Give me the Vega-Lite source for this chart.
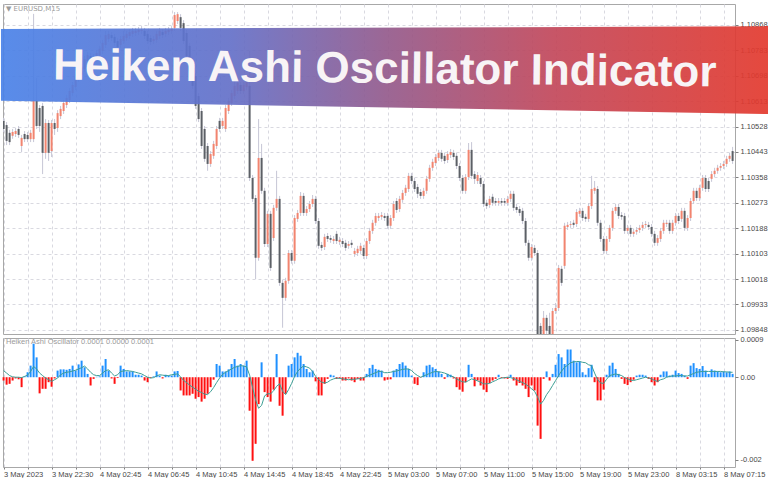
{
"$schema":"https://vega.github.io/schema/vega-lite/v6.json",
"padding":{"left":0,"top":3,"right":0,"bottom":0},
"background":"#ffffff",
"spacing":0,
"config":{"view":{"stroke":"#a8a8a8","strokeWidth":1},"axis":{"labelFont":"Liberation Sans","labelFontSize":7.5,"labelColor":"#484848","tickColor":"#808080","domain":false}},
"datasets":{"d":[
{"i":0,"o":1.10547,"c":1.10520,"h":1.10557,"l":1.10510,"v":-0.00008,"s":0.00016},
{"i":1,"o":1.10533,"c":1.10480,"h":1.10543,"l":1.10466,"v":-0.00018,"s":0.00010},
{"i":2,"o":1.10507,"c":1.10476,"h":1.10517,"l":1.10466,"v":-0.00016,"s":0.00004},
{"i":3,"o":1.10497,"c":1.10510,"h":1.10520,"l":1.10487,"v":-0.00008,"s":0.00001},
{"i":4,"o":1.10503,"c":1.10513,"h":1.10523,"l":1.10493,"v":-0.00003,"s":0},
{"i":5,"o":1.10520,"c":1.10500,"h":1.10530,"l":1.10490,"v":-0.00005,"s":0},
{"i":6,"o":1.10463,"c":1.10490,"h":1.10500,"l":1.10443,"v":-0.00024,"s":-0.00001},
{"i":7,"o":1.10503,"c":1.10486,"h":1.10513,"l":1.10476,"v":0.00002,"s":0.00002},
{"i":8,"o":1.10500,"c":1.10486,"h":1.10510,"l":1.10476,"v":0.00012,"s":0.00005},
{"i":9,"o":1.10486,"c":1.10507,"h":1.10517,"l":1.10476,"v":0.00028,"s":0.00014},
{"i":10,"o":1.10486,"c":1.10614,"h":1.10905,"l":1.10476,"v":0.00081,"s":0.00026},
{"i":11,"o":1.10614,"c":1.10530,"h":1.10691,"l":1.10520,"v":0.00048,"s":0.00020},
{"i":12,"o":1.10590,"c":1.10530,"h":1.10600,"l":1.10510,"v":-0.00039,"s":0.00010},
{"i":13,"o":1.10597,"c":1.10440,"h":1.10607,"l":1.10369,"v":-0.00028,"s":0.00004},
{"i":14,"o":1.10440,"c":1.10540,"h":1.10553,"l":1.10420,"v":-0.00028,"s":-0.00002},
{"i":15,"o":1.10540,"c":1.10440,"h":1.10550,"l":1.10413,"v":-0.00012,"s":-0.00006},
{"i":16,"o":1.10446,"c":1.10540,"h":1.10550,"l":1.10426,"v":-0.00023,"s":-0.00010},
{"i":17,"o":1.10540,"c":1.10520,"h":1.10553,"l":1.10500,"v":-0.00003,"s":-0.00006},
{"i":18,"o":1.10523,"c":1.10573,"h":1.10583,"l":1.10510,"v":0.00016,"s":-0.00002},
{"i":19,"o":1.10563,"c":1.10587,"h":1.10597,"l":1.10553,"v":0.00019,"s":0.00006},
{"i":20,"o":1.10580,"c":1.10607,"h":1.10617,"l":1.10570,"v":0.00019,"s":0.00010},
{"i":21,"o":1.10600,"c":1.10624,"h":1.10634,"l":1.10590,"v":0.00018,"s":0.00012},
{"i":22,"o":1.10617,"c":1.10647,"h":1.10657,"l":1.10607,"v":0.00020,"s":0.00013},
{"i":23,"o":1.10640,"c":1.10667,"h":1.10677,"l":1.10630,"v":0.00028,"s":0.00015},
{"i":24,"o":1.10660,"c":1.10694,"h":1.10704,"l":1.10650,"v":0.00016,"s":0.00017},
{"i":25,"o":1.10687,"c":1.10707,"h":1.10717,"l":1.10677,"v":0.00031,"s":0.00020},
{"i":26,"o":1.10701,"c":1.10727,"h":1.10737,"l":1.10691,"v":0.00040,"s":0.00023},
{"i":27,"o":1.10721,"c":1.10754,"h":1.10764,"l":1.10711,"v":0.00024,"s":0.00027},
{"i":28,"o":1.10747,"c":1.10767,"h":1.10777,"l":1.10737,"v":0.00008,"s":0.00020},
{"i":29,"o":1.10764,"c":1.10741,"h":1.10774,"l":1.10731,"v":-0.00020,"s":0.00012},
{"i":30,"o":1.10747,"c":1.10761,"h":1.10771,"l":1.10737,"v":-0.00004,"s":0.00006},
{"i":31,"o":1.10754,"c":1.10774,"h":1.10784,"l":1.10744,"v":0.00001,"s":0.00004},
{"i":32,"o":1.10767,"c":1.10788,"h":1.10798,"l":1.10757,"v":0.00002,"s":0.00004},
{"i":33,"o":1.10781,"c":1.10808,"h":1.10818,"l":1.10771,"v":0.00028,"s":0.00010},
{"i":34,"o":1.10801,"c":1.10834,"h":1.10848,"l":1.10791,"v":0.00044,"s":0.00016},
{"i":35,"o":1.10821,"c":1.10838,"h":1.10848,"l":1.10811,"v":0.00016,"s":0.00018},
{"i":36,"o":1.10834,"c":1.10824,"h":1.10844,"l":1.10814,"v":-0.00003,"s":0.00010},
{"i":37,"o":1.10828,"c":1.10808,"h":1.10838,"l":1.10798,"v":-0.00016,"s":0.00003},
{"i":38,"o":1.10814,"c":1.10794,"h":1.10824,"l":1.10784,"v":-0.00002,"s":0.00006},
{"i":39,"o":1.10801,"c":1.10821,"h":1.10831,"l":1.10791,"v":0.00028,"s":0.00014},
{"i":40,"o":1.10814,"c":1.10831,"h":1.10848,"l":1.10804,"v":0.00020,"s":0.00015},
{"i":41,"o":1.10824,"c":1.10838,"h":1.10848,"l":1.10814,"v":0.00014,"s":0.00016},
{"i":42,"o":1.10831,"c":1.10844,"h":1.10854,"l":1.10821,"v":0.00014,"s":0.00015},
{"i":43,"o":1.10838,"c":1.10848,"h":1.10858,"l":1.10828,"v":0.00014,"s":0.00014},
{"i":44,"o":1.10841,"c":1.10848,"h":1.10858,"l":1.10831,"v":0.00006,"s":0.00012},
{"i":45,"o":1.10844,"c":1.10851,"h":1.10861,"l":1.10834,"v":0.00006,"s":0.00010},
{"i":46,"o":1.10848,"c":1.10851,"h":1.10864,"l":1.10838,"v":0.00004,"s":0.00008},
{"i":47,"o":1.10848,"c":1.10831,"h":1.10858,"l":1.10821,"v":-0.00008,"s":0.00004},
{"i":48,"o":1.10838,"c":1.10814,"h":1.10848,"l":1.10804,"v":-0.00012,"s":0},
{"i":49,"o":1.10824,"c":1.10811,"h":1.10834,"l":1.10801,"v":-0.00002,"s":-0.00002},
{"i":50,"o":1.10814,"c":1.10821,"h":1.10831,"l":1.10804,"v":0.00002,"s":-0.00001},
{"i":51,"o":1.10818,"c":1.10838,"h":1.10848,"l":1.10808,"v":0.00014,"s":0.00003},
{"i":52,"o":1.10831,"c":1.10848,"h":1.10858,"l":1.10821,"v":0.00004,"s":0.00006},
{"i":53,"o":1.10844,"c":1.10834,"h":1.10854,"l":1.10824,"v":-0.00003,"s":0.00005},
{"i":54,"o":1.10838,"c":1.10848,"h":1.10858,"l":1.10828,"v":0.00006,"s":0.00004},
{"i":55,"o":1.10844,"c":1.10851,"h":1.10861,"l":1.10834,"v":0.00004,"s":0.00004},
{"i":56,"o":1.10848,"c":1.10854,"h":1.10864,"l":1.10838,"v":0.00004,"s":0.00006},
{"i":57,"o":1.10858,"c":1.10901,"h":1.10911,"l":1.10848,"v":0.00014,"s":0.00007},
{"i":58,"o":1.10881,"c":1.10904,"h":1.10911,"l":1.10871,"v":0.00015,"s":0.00008},
{"i":59,"o":1.10894,"c":1.10858,"h":1.10904,"l":1.10848,"v":-0.00032,"s":0.00001},
{"i":60,"o":1.10874,"c":1.10814,"h":1.10884,"l":1.10804,"v":-0.00044,"s":-0.00008},
{"i":61,"o":1.10841,"c":1.10764,"h":1.10851,"l":1.10754,"v":-0.00044,"s":-0.00013},
{"i":62,"o":1.10798,"c":1.10714,"h":1.10808,"l":1.10704,"v":-0.00044,"s":-0.00019},
{"i":63,"o":1.10747,"c":1.10664,"h":1.10757,"l":1.10654,"v":-0.00040,"s":-0.00024},
{"i":64,"o":1.10697,"c":1.10597,"h":1.10707,"l":1.10587,"v":-0.00052,"s":-0.00029},
{"i":65,"o":1.10630,"c":1.10553,"h":1.10640,"l":1.10543,"v":-0.00048,"s":-0.00034},
{"i":66,"o":1.10580,"c":1.10463,"h":1.10590,"l":1.10453,"v":-0.00059,"s":-0.00037},
{"i":67,"o":1.10520,"c":1.10420,"h":1.10530,"l":1.10410,"v":-0.00052,"s":-0.00041},
{"i":68,"o":1.10463,"c":1.10403,"h":1.10473,"l":1.10380,"v":-0.00040,"s":-0.00042},
{"i":69,"o":1.10403,"c":1.10436,"h":1.10446,"l":1.10393,"v":-0.00024,"s":-0.00035},
{"i":70,"o":1.10430,"c":1.10470,"h":1.10480,"l":1.10420,"v":-0.00006,"s":-0.00025},
{"i":71,"o":1.10463,"c":1.10520,"h":1.10530,"l":1.10453,"v":0.00032,"s":-0.00013},
{"i":72,"o":1.10547,"c":1.10520,"h":1.10557,"l":1.10510,"v":0.00028,"s":-0.00002},
{"i":73,"o":1.10530,"c":1.10547,"h":1.10557,"l":1.10520,"v":0.00014,"s":0.00007},
{"i":74,"o":1.10520,"c":1.10590,"h":1.10600,"l":1.10510,"v":0.00014,"s":0.00012},
{"i":75,"o":1.10580,"c":1.10614,"h":1.10624,"l":1.10570,"v":0.00019,"s":0.00016},
{"i":76,"o":1.10607,"c":1.10640,"h":1.10650,"l":1.10597,"v":0.00032,"s":0.00020},
{"i":77,"o":1.10630,"c":1.10664,"h":1.10681,"l":1.10620,"v":0.00044,"s":0.00024},
{"i":78,"o":1.10647,"c":1.10674,"h":1.10684,"l":1.10637,"v":0.00028,"s":0.00026},
{"i":79,"o":1.10667,"c":1.10647,"h":1.10677,"l":1.10637,"v":0.00032,"s":0.00028},
{"i":80,"o":1.10647,"c":1.10667,"h":1.10677,"l":1.10637,"v":0.00028,"s":0.00027},
{"i":81,"o":1.10660,"c":1.10681,"h":1.10691,"l":1.10650,"v":0.00040,"s":0.00025},
{"i":82,"o":1.10664,"c":1.10356,"h":1.10781,"l":1.10346,"v":-0.00081,"s":0.00005},
{"i":83,"o":1.10356,"c":1.10286,"h":1.10366,"l":1.10276,"v":-0.00202,"s":-0.00025},
{"i":84,"o":1.10289,"c":1.10089,"h":1.10299,"l":1.10018,"v":-0.00161,"s":-0.00055},
{"i":85,"o":1.10089,"c":1.10423,"h":1.10553,"l":1.10079,"v":-0.00065,"s":-0.00075},
{"i":86,"o":1.10423,"c":1.10313,"h":1.10470,"l":1.10303,"v":0.00036,"s":-0.00068},
{"i":87,"o":1.10313,"c":1.10135,"h":1.10323,"l":1.10125,"v":-0.00036,"s":-0.00045},
{"i":88,"o":1.10135,"c":1.10236,"h":1.10246,"l":1.10125,"v":-0.00048,"s":-0.00040},
{"i":89,"o":1.10236,"c":1.10055,"h":1.10246,"l":1.10045,"v":-0.00059,"s":-0.00040},
{"i":90,"o":1.10155,"c":1.10256,"h":1.10266,"l":1.10145,"v":-0.00030,"s":-0.00033},
{"i":91,"o":1.10256,"c":1.10286,"h":1.10380,"l":1.10246,"v":0.00056,"s":-0.00022},
{"i":92,"o":1.10286,"c":1.10005,"h":1.10296,"l":1.09995,"v":-0.00069,"s":-0.00016},
{"i":93,"o":1.10005,"c":1.09955,"h":1.10015,"l":1.09855,"v":-0.00093,"s":-0.00034},
{"i":94,"o":1.09955,"c":1.10012,"h":1.10022,"l":1.09945,"v":-0.00040,"s":-0.00042},
{"i":95,"o":1.10012,"c":1.10105,"h":1.10115,"l":1.10002,"v":0.00028,"s":-0.00030},
{"i":96,"o":1.10105,"c":1.10079,"h":1.10115,"l":1.10069,"v":0.00032,"s":-0.00015},
{"i":97,"o":1.10079,"c":1.10222,"h":1.10232,"l":1.10069,"v":0.00048,"s":0.00002},
{"i":98,"o":1.10219,"c":1.10239,"h":1.10249,"l":1.10209,"v":0.00059,"s":0.00014},
{"i":99,"o":1.10239,"c":1.10296,"h":1.10309,"l":1.10229,"v":0.00052,"s":0.00022},
{"i":100,"o":1.10296,"c":1.10239,"h":1.10306,"l":1.10229,"v":0.00032,"s":0.00027},
{"i":101,"o":1.10239,"c":1.10252,"h":1.10262,"l":1.10229,"v":0.00020,"s":0.00025},
{"i":102,"o":1.10252,"c":1.10269,"h":1.10279,"l":1.10242,"v":0.00012,"s":0.00022},
{"i":103,"o":1.10269,"c":1.10286,"h":1.10299,"l":1.10259,"v":0.00016,"s":0.00014},
{"i":104,"o":1.10286,"c":1.10212,"h":1.10296,"l":1.10202,"v":-0.00010,"s":0.00002},
{"i":105,"o":1.10212,"c":1.10129,"h":1.10222,"l":1.10119,"v":-0.00044,"s":-0.00006},
{"i":106,"o":1.10132,"c":1.10122,"h":1.10142,"l":1.10112,"v":-0.00044,"s":-0.00012},
{"i":107,"o":1.10125,"c":1.10159,"h":1.10169,"l":1.10115,"v":-0.00016,"s":-0.00014},
{"i":108,"o":1.10162,"c":1.10152,"h":1.10172,"l":1.10142,"v":-0.00004,"s":-0.00012},
{"i":109,"o":1.10155,"c":1.10149,"h":1.10165,"l":1.10139,"v":0.00006,"s":-0.00007},
{"i":110,"o":1.10145,"c":1.10152,"h":1.10162,"l":1.10135,"v":0.00004,"s":-0.00004},
{"i":111,"o":1.10169,"c":1.10145,"h":1.10179,"l":1.10135,"v":-0.00004,"s":-0.00002},
{"i":112,"o":1.10142,"c":1.10149,"h":1.10159,"l":1.10132,"v":-0.00003,"s":-0.00003},
{"i":113,"o":1.10145,"c":1.10135,"h":1.10155,"l":1.10125,"v":-0.00008,"s":-0.00004},
{"i":114,"o":1.10139,"c":1.10122,"h":1.10149,"l":1.10112,"v":-0.00008,"s":-0.00005},
{"i":115,"o":1.10129,"c":1.10135,"h":1.10145,"l":1.10119,"v":-0.00003,"s":-0.00006},
{"i":116,"o":1.10139,"c":1.10132,"h":1.10149,"l":1.10122,"v":-0.00008,"s":-0.00005},
{"i":117,"o":1.10102,"c":1.10112,"h":1.10122,"l":1.10092,"v":-0.00012,"s":-0.00005},
{"i":118,"o":1.10105,"c":1.10119,"h":1.10129,"l":1.10095,"v":-0.00004,"s":-0.00004},
{"i":119,"o":1.10112,"c":1.10129,"h":1.10139,"l":1.10102,"v":-0.00008,"s":-0.00003},
{"i":120,"o":1.10122,"c":1.10095,"h":1.10132,"l":1.10085,"v":-0.00008,"s":-0.00001},
{"i":121,"o":1.10095,"c":1.10145,"h":1.10155,"l":1.10085,"v":0.00008,"s":0.00002},
{"i":122,"o":1.10145,"c":1.10179,"h":1.10189,"l":1.10135,"v":0.00022,"s":0.00005},
{"i":123,"o":1.10179,"c":1.10206,"h":1.10216,"l":1.10169,"v":0.00030,"s":0.00008},
{"i":124,"o":1.10206,"c":1.10229,"h":1.10239,"l":1.10196,"v":0.00020,"s":0.00011},
{"i":125,"o":1.10222,"c":1.10229,"h":1.10239,"l":1.10212,"v":0.00018,"s":0.00014},
{"i":126,"o":1.10226,"c":1.10232,"h":1.10242,"l":1.10216,"v":0.00016,"s":0.00014},
{"i":127,"o":1.10229,"c":1.10222,"h":1.10239,"l":1.10212,"v":-0.00008,"s":0.00011},
{"i":128,"o":1.10229,"c":1.10196,"h":1.10239,"l":1.10186,"v":-0.00006,"s":0.00011},
{"i":129,"o":1.10196,"c":1.10222,"h":1.10232,"l":1.10186,"v":-0.00005,"s":0.00012},
{"i":130,"o":1.10222,"c":1.10269,"h":1.10279,"l":1.10212,"v":0.00016,"s":0.00014},
{"i":131,"o":1.10279,"c":1.10249,"h":1.10289,"l":1.10239,"v":0.00020,"s":0.00015},
{"i":132,"o":1.10252,"c":1.10286,"h":1.10296,"l":1.10242,"v":0.00032,"s":0.00017},
{"i":133,"o":1.10283,"c":1.10306,"h":1.10316,"l":1.10273,"v":0.00036,"s":0.00019},
{"i":134,"o":1.10306,"c":1.10323,"h":1.10333,"l":1.10296,"v":0.00028,"s":0.00020},
{"i":135,"o":1.10319,"c":1.10363,"h":1.10373,"l":1.10309,"v":0.00020,"s":0.00020},
{"i":136,"o":1.10363,"c":1.10346,"h":1.10373,"l":1.10336,"v":0.00004,"s":0.00016},
{"i":137,"o":1.10346,"c":1.10319,"h":1.10356,"l":1.10309,"v":-0.00016,"s":0.00009},
{"i":138,"o":1.10326,"c":1.10303,"h":1.10336,"l":1.10289,"v":-0.00019,"s":0.00004},
{"i":139,"o":1.10309,"c":1.10296,"h":1.10319,"l":1.10286,"v":-0.00001,"s":0},
{"i":140,"o":1.10296,"c":1.10313,"h":1.10323,"l":1.10286,"v":0.00012,"s":0.00003},
{"i":141,"o":1.10313,"c":1.10353,"h":1.10363,"l":1.10303,"v":0.00028,"s":0.00006},
{"i":142,"o":1.10353,"c":1.10390,"h":1.10400,"l":1.10343,"v":0.00030,"s":0.00009},
{"i":143,"o":1.10390,"c":1.10410,"h":1.10420,"l":1.10380,"v":0.00024,"s":0.00012},
{"i":144,"o":1.10406,"c":1.10426,"h":1.10436,"l":1.10396,"v":0.00020,"s":0.00014},
{"i":145,"o":1.10423,"c":1.10440,"h":1.10450,"l":1.10413,"v":0.00014,"s":0.00013},
{"i":146,"o":1.10440,"c":1.10420,"h":1.10450,"l":1.10410,"v":0.00008,"s":0.00012},
{"i":147,"o":1.10430,"c":1.10413,"h":1.10440,"l":1.10403,"v":-0.00004,"s":0.00010},
{"i":148,"o":1.10416,"c":1.10436,"h":1.10446,"l":1.10406,"v":0.00008,"s":0.00007},
{"i":149,"o":1.10433,"c":1.10443,"h":1.10453,"l":1.10423,"v":0.00006,"s":0.00003},
{"i":150,"o":1.10440,"c":1.10426,"h":1.10450,"l":1.10416,"v":-0.00003,"s":0.00001},
{"i":151,"o":1.10430,"c":1.10396,"h":1.10440,"l":1.10386,"v":-0.00024,"s":-0.00004},
{"i":152,"o":1.10396,"c":1.10356,"h":1.10406,"l":1.10346,"v":-0.00030,"s":-0.00008},
{"i":153,"o":1.10356,"c":1.10313,"h":1.10366,"l":1.10303,"v":-0.00035,"s":-0.00011},
{"i":154,"o":1.10313,"c":1.10359,"h":1.10369,"l":1.10303,"v":-0.00012,"s":-0.00012},
{"i":155,"o":1.10359,"c":1.10450,"h":1.10473,"l":1.10349,"v":0.00030,"s":-0.00008},
{"i":156,"o":1.10450,"c":1.10363,"h":1.10476,"l":1.10353,"v":0.00008,"s":-0.00004},
{"i":157,"o":1.10369,"c":1.10353,"h":1.10379,"l":1.10336,"v":-0.00022,"s":-0.00006},
{"i":158,"o":1.10346,"c":1.10366,"h":1.10376,"l":1.10336,"v":-0.00008,"s":-0.00009},
{"i":159,"o":1.10356,"c":1.10336,"h":1.10366,"l":1.10326,"v":-0.00020,"s":-0.00012},
{"i":160,"o":1.10336,"c":1.10269,"h":1.10346,"l":1.10259,"v":-0.00030,"s":-0.00016},
{"i":161,"o":1.10273,"c":1.10262,"h":1.10283,"l":1.10252,"v":-0.00036,"s":-0.00016},
{"i":162,"o":1.10266,"c":1.10286,"h":1.10296,"l":1.10256,"v":-0.00014,"s":-0.00015},
{"i":163,"o":1.10293,"c":1.10273,"h":1.10303,"l":1.10263,"v":-0.00008,"s":-0.00011},
{"i":164,"o":1.10279,"c":1.10273,"h":1.10289,"l":1.10263,"v":-0.00004,"s":-0.00008},
{"i":165,"o":1.10273,"c":1.10279,"h":1.10289,"l":1.10263,"v":0.00006,"s":-0.00004},
{"i":166,"o":1.10279,"c":1.10273,"h":1.10289,"l":1.10263,"v":-0.00002,"s":-0.00002},
{"i":167,"o":1.10279,"c":1.10273,"h":1.10289,"l":1.10263,"v":-0.00003,"s":-0.00001},
{"i":168,"o":1.10273,"c":1.10286,"h":1.10296,"l":1.10263,"v":-0.00004,"s":0},
{"i":169,"o":1.10286,"c":1.10303,"h":1.10313,"l":1.10276,"v":0.00006,"s":-0.00001},
{"i":170,"o":1.10303,"c":1.10256,"h":1.10313,"l":1.10246,"v":-0.00008,"s":-0.00003},
{"i":171,"o":1.10259,"c":1.10249,"h":1.10269,"l":1.10239,"v":-0.00020,"s":-0.00006},
{"i":172,"o":1.10252,"c":1.10239,"h":1.10262,"l":1.10229,"v":-0.00014,"s":-0.00010},
{"i":173,"o":1.10246,"c":1.10212,"h":1.10256,"l":1.10202,"v":-0.00020,"s":-0.00013},
{"i":174,"o":1.10212,"c":1.10139,"h":1.10222,"l":1.10129,"v":-0.00028,"s":-0.00017},
{"i":175,"o":1.10139,"c":1.10089,"h":1.10149,"l":1.10079,"v":-0.00048,"s":-0.00022},
{"i":176,"o":1.10089,"c":1.10125,"h":1.10135,"l":1.10079,"v":-0.00020,"s":-0.00028},
{"i":177,"o":1.10122,"c":1.10105,"h":1.10132,"l":1.10095,"v":-0.00032,"s":-0.00034},
{"i":178,"o":1.10105,"c":1.09834,"h":1.10115,"l":1.09811,"v":-0.00117,"s":-0.00048},
{"i":179,"o":1.09861,"c":1.09818,"h":1.09871,"l":1.09800,"v":-0.00149,"s":-0.00065},
{"i":180,"o":1.09834,"c":1.09888,"h":1.09911,"l":1.09818,"v":-0.00004,"s":-0.00056},
{"i":181,"o":1.09888,"c":1.09845,"h":1.09898,"l":1.09828,"v":0.00014,"s":-0.00042},
{"i":182,"o":1.09861,"c":1.09828,"h":1.09905,"l":1.09811,"v":-0.00008,"s":-0.00032},
{"i":183,"o":1.09834,"c":1.09911,"h":1.09921,"l":1.09818,"v":0.00008,"s":-0.00020},
{"i":184,"o":1.09911,"c":1.09921,"h":1.09938,"l":1.09901,"v":0.00030,"s":-0.00008},
{"i":185,"o":1.09921,"c":1.10055,"h":1.10065,"l":1.09911,"v":0.00056,"s":0.00004},
{"i":186,"o":1.10052,"c":1.10005,"h":1.10062,"l":1.09995,"v":0.00048,"s":0.00015},
{"i":187,"o":1.10062,"c":1.10196,"h":1.10206,"l":1.10052,"v":0.00032,"s":0.00024},
{"i":188,"o":1.10192,"c":1.10199,"h":1.10209,"l":1.10182,"v":0.00067,"s":0.00029},
{"i":189,"o":1.10199,"c":1.10202,"h":1.10212,"l":1.10189,"v":0.00067,"s":0.00035},
{"i":190,"o":1.10206,"c":1.10199,"h":1.10216,"l":1.10189,"v":0.00040,"s":0.00037},
{"i":191,"o":1.10202,"c":1.10242,"h":1.10252,"l":1.10192,"v":0.00036,"s":0.00038},
{"i":192,"o":1.10236,"c":1.10246,"h":1.10256,"l":1.10226,"v":0.00038,"s":0.00038},
{"i":193,"o":1.10246,"c":1.10222,"h":1.10256,"l":1.10212,"v":0.00012,"s":0.00036},
{"i":194,"o":1.10226,"c":1.10219,"h":1.10236,"l":1.10209,"v":0.00006,"s":0.00035},
{"i":195,"o":1.10219,"c":1.10262,"h":1.10272,"l":1.10209,"v":0.00022,"s":0.00030},
{"i":196,"o":1.10262,"c":1.10319,"h":1.10363,"l":1.10252,"v":0.00030,"s":0.00028},
{"i":197,"o":1.10313,"c":1.10323,"h":1.10346,"l":1.10303,"v":-0.00012,"s":0.00010},
{"i":198,"o":1.10319,"c":1.10206,"h":1.10329,"l":1.10196,"v":-0.00056,"s":-0.00006},
{"i":199,"o":1.10206,"c":1.10152,"h":1.10216,"l":1.10142,"v":-0.00056,"s":-0.00014},
{"i":200,"o":1.10152,"c":1.10112,"h":1.10162,"l":1.10102,"v":-0.00030,"s":-0.00015},
{"i":201,"o":1.10112,"c":1.10152,"h":1.10162,"l":1.10102,"v":0.00006,"s":-0.00005},
{"i":202,"o":1.10152,"c":1.10189,"h":1.10199,"l":1.10142,"v":0.00028,"s":0.00004},
{"i":203,"o":1.10189,"c":1.10246,"h":1.10256,"l":1.10179,"v":0.00035,"s":0.00006},
{"i":204,"o":1.10246,"c":1.10259,"h":1.10269,"l":1.10236,"v":0.00020,"s":0.00008},
{"i":205,"o":1.10259,"c":1.10229,"h":1.10269,"l":1.10219,"v":0.00008,"s":0.00006},
{"i":206,"o":1.10232,"c":1.10226,"h":1.10242,"l":1.10216,"v":-0.00004,"s":0.00004},
{"i":207,"o":1.10229,"c":1.10179,"h":1.10239,"l":1.10169,"v":-0.00016,"s":-0.00001},
{"i":208,"o":1.10179,"c":1.10189,"h":1.10199,"l":1.10169,"v":-0.00019,"s":-0.00004},
{"i":209,"o":1.10189,"c":1.10169,"h":1.10199,"l":1.10159,"v":-0.00012,"s":-0.00007},
{"i":210,"o":1.10169,"c":1.10176,"h":1.10186,"l":1.10159,"v":-0.00006,"s":-0.00008},
{"i":211,"o":1.10176,"c":1.10182,"h":1.10192,"l":1.10166,"v":0.00004,"s":-0.00006},
{"i":212,"o":1.10182,"c":1.10189,"h":1.10199,"l":1.10172,"v":0.00006,"s":-0.00004},
{"i":213,"o":1.10189,"c":1.10199,"h":1.10209,"l":1.10179,"v":0.00006,"s":-0.00002},
{"i":214,"o":1.10199,"c":1.10202,"h":1.10212,"l":1.10189,"v":0.00004,"s":0},
{"i":215,"o":1.10199,"c":1.10192,"h":1.10209,"l":1.10182,"v":-0.00004,"s":-0.00002},
{"i":216,"o":1.10192,"c":1.10169,"h":1.10202,"l":1.10159,"v":-0.00012,"s":-0.00004},
{"i":217,"o":1.10169,"c":1.10139,"h":1.10179,"l":1.10129,"v":-0.00020,"s":-0.00008},
{"i":218,"o":1.10139,"c":1.10155,"h":1.10165,"l":1.10129,"v":-0.00012,"s":-0.00010},
{"i":219,"o":1.10152,"c":1.10179,"h":1.10189,"l":1.10142,"v":0.00006,"s":-0.00006},
{"i":220,"o":1.10179,"c":1.10206,"h":1.10216,"l":1.10169,"v":0.00014,"s":-0.00004},
{"i":221,"o":1.10202,"c":1.10206,"h":1.10216,"l":1.10192,"v":0.00014,"s":0},
{"i":222,"o":1.10206,"c":1.10179,"h":1.10216,"l":1.10169,"v":0.00004,"s":0.00002},
{"i":223,"o":1.10179,"c":1.10206,"h":1.10216,"l":1.10169,"v":0.00006,"s":0.00003},
{"i":224,"o":1.10206,"c":1.10229,"h":1.10239,"l":1.10196,"v":0.00016,"s":0.00003},
{"i":225,"o":1.10229,"c":1.10212,"h":1.10239,"l":1.10202,"v":0.00010,"s":0.00004},
{"i":226,"o":1.10219,"c":1.10246,"h":1.10256,"l":1.10209,"v":0.00008,"s":0.00004},
{"i":227,"o":1.10246,"c":1.10189,"h":1.10256,"l":1.10179,"v":0.00004,"s":0.00003},
{"i":228,"o":1.10189,"c":1.10222,"h":1.10232,"l":1.10179,"v":-0.00004,"s":0.00003},
{"i":229,"o":1.10222,"c":1.10279,"h":1.10289,"l":1.10212,"v":0.00028,"s":0.00006},
{"i":230,"o":1.10279,"c":1.10313,"h":1.10323,"l":1.10269,"v":0.00034,"s":0.00009},
{"i":231,"o":1.10313,"c":1.10289,"h":1.10323,"l":1.10279,"v":0.00022,"s":0.00012},
{"i":232,"o":1.10289,"c":1.10323,"h":1.10333,"l":1.10279,"v":0.00020,"s":0.00013},
{"i":233,"o":1.10323,"c":1.10356,"h":1.10366,"l":1.10313,"v":0.00027,"s":0.00014},
{"i":234,"o":1.10356,"c":1.10319,"h":1.10366,"l":1.10309,"v":0.00016,"s":0.00014},
{"i":235,"o":1.10346,"c":1.10319,"h":1.10356,"l":1.10309,"v":0.00008,"s":0.00014},
{"i":236,"o":1.10353,"c":1.10369,"h":1.10379,"l":1.10343,"v":0.00019,"s":0.00014},
{"i":237,"o":1.10369,"c":1.10380,"h":1.10390,"l":1.10359,"v":0.00016,"s":0.00014},
{"i":238,"o":1.10380,"c":1.10390,"h":1.10400,"l":1.10370,"v":0.00014,"s":0.00014},
{"i":239,"o":1.10390,"c":1.10396,"h":1.10406,"l":1.10380,"v":0.00012,"s":0.00014},
{"i":240,"o":1.10396,"c":1.10403,"h":1.10413,"l":1.10386,"v":0.00014,"s":0.00013},
{"i":241,"o":1.10403,"c":1.10420,"h":1.10430,"l":1.10393,"v":0.00012,"s":0.00013},
{"i":242,"o":1.10420,"c":1.10430,"h":1.10440,"l":1.10410,"v":0.00014,"s":0.00012},
{"i":243,"o":1.10446,"c":1.10413,"h":1.10460,"l":1.10403,"v":0.00008,"s":0.00012}
]},
"vconcat":[
{
"width":732,"height":330,
"data":{"name":"d"},
"layer":[
{"mark":{"type":"rule","color":"#c6c6d6","strokeWidth":1,"clip":true},
"encoding":{
"x":{"field":"i","type":"quantitative","title":null,"scale":{"domain":[-0.2,243.8],"nice":false,"zero":false},"axis":{"values":[0,8,16,24,32,40,48,56,64,72,80,88,96,104,112,120,128,136,144,152,160,168,176,184,192,200,208,216,224,232,240],"tickCount":100,"labels":false,"ticks":false,"domain":false,"grid":true,"gridDash":[3,3],"gridColor":"#d9d9e0"}},
"y":{"field":"l","type":"quantitative","title":null,"scale":{"domain":[1.09834,1.10938],"nice":false,"zero":false},"axis":{"orient":"right","values":[1.09848,1.09933,1.10018,1.10103,1.10188,1.10273,1.10358,1.10443,1.10528,1.10613,1.10698,1.10783,1.10868],"tickCount":100,"format":".5f","grid":true,"gridDash":[3,3],"gridColor":"#d9d9e0","tickSize":3,"labelPadding":2,"labelOverlap":false,"labelBound":false}},
"y2":{"field":"h"}
}},
{"mark":{"type":"rule","strokeWidth":2,"clip":true},
"encoding":{
"x":{"field":"i","type":"quantitative","title":null},
"y":{"field":"o","type":"quantitative","title":null},
"y2":{"field":"c"},
"color":{"condition":{"test":"datum.c > datum.o","value":"#f2846f"},"value":"#5c6066"}
}},
{"data":{"values":[{"bx":-0.87,"bt":1.10854,"bb":1.10614},{"bx":255.13,"bt":1.10864,"bb":1.10570}]},
"mark":{"type":"area","clip":false,"opacity":0.92,"color":{"gradient":"linear","x1":0,"x2":1,"y1":0,"y2":0,"stops":[{"offset":0,"color":"#4a82e8"},{"offset":0.3,"color":"#6470c8"},{"offset":0.5,"color":"#935a8c"},{"offset":0.72,"color":"#c2475a"},{"offset":1,"color":"#e3392d"}]}},
"encoding":{
"x":{"field":"bx","type":"quantitative","title":null},
"y":{"field":"bt","type":"quantitative","title":null},
"y2":{"field":"bb"}
}},
{"data":{"values":[{}]},
"mark":{"type":"text","text":"Heiken Ashi Oscillator Indicator","font":"Liberation Sans","fontWeight":"bold","fontSize":44,"color":"#f8f4f6","align":"center","baseline":"alphabetic","angle":0.6,"clip":false},
"encoding":{"x":{"datum":127,"type":"quantitative","title":null},"y":{"datum":1.10674,"type":"quantitative","title":null}}},
{"data":{"values":[{}]},
"mark":{"type":"text","text":"▼ EURUSD,M15","font":"DejaVu Sans","fontSize":7,"color":"#9a9a9a","align":"left","baseline":"middle"},
"encoding":{"x":{"datum":0.8,"type":"quantitative","title":null},"y":{"datum":1.10921,"type":"quantitative","title":null}}}
]
},
{
"width":732,"height":129,
"data":{"name":"d"},
"layer":[
{"mark":{"type":"rule","strokeWidth":2},
"encoding":{
"x":{"field":"i","type":"quantitative","title":null,"scale":{"domain":[-0.2,243.8],"nice":false,"zero":false},"axis":{"values":[0,8,16,24,32,40,48,56,64,72,80,88,96,104,112,120,128,136,144,152,160,168,176,184,192,200,208,216,224,232,240],"tickCount":100,"grid":true,"gridDash":[3,3],"gridColor":"#d9d9e0","tickSize":2,"labelPadding":1,"labelAlign":"left","labelFlush":false,"labelOverlap":false,"labelBound":false,"labelExpr":"datum.value % 16 == 0 ? ['3 May 2023','3 May 22:30','4 May 02:45','4 May 06:45','4 May 10:45','4 May 14:45','4 May 18:45','4 May 22:45','5 May 03:00','5 May 07:00','5 May 11:00','5 May 15:00','5 May 19:00','5 May 23:00','8 May 03:15','8 May 07:15'][datum.value / 16] : ''"}},
"y":{"field":"v","type":"quantitative","title":null,"scale":{"domain":[-0.00217,0.000948],"nice":false,"zero":false},"axis":{"orient":"right","values":[-0.002,0,0.0009],"tickCount":100,"grid":false,"tickSize":3,"labelPadding":2,"labelOverlap":false,"labelBound":false,"labelExpr":"datum.value == 0 ? '0.00' : (datum.value > 0 ? '0.0009' : '-0.002')"}},
"y2":{"datum":0},
"color":{"condition":{"test":"datum.v >= 0","value":"#1e90ff"},"value":"#ff1010"}
}},
{"mark":{"type":"line","color":"#3d9f95","strokeWidth":1},
"encoding":{
"x":{"field":"i","type":"quantitative","title":null},
"y":{"field":"s","type":"quantitative","title":null}
}},
{"data":{"values":[{}]},
"mark":{"type":"text","text":"Heiken Ashi Oscillator 0.0001 0.0000 0.0001","font":"Liberation Sans","fontSize":7.5,"color":"#9a9a9a","align":"left","baseline":"middle"},
"encoding":{"x":{"datum":0.8,"type":"quantitative","title":null},"y":{"datum":0.00085,"type":"quantitative","title":null}}}
]
}
]
}
